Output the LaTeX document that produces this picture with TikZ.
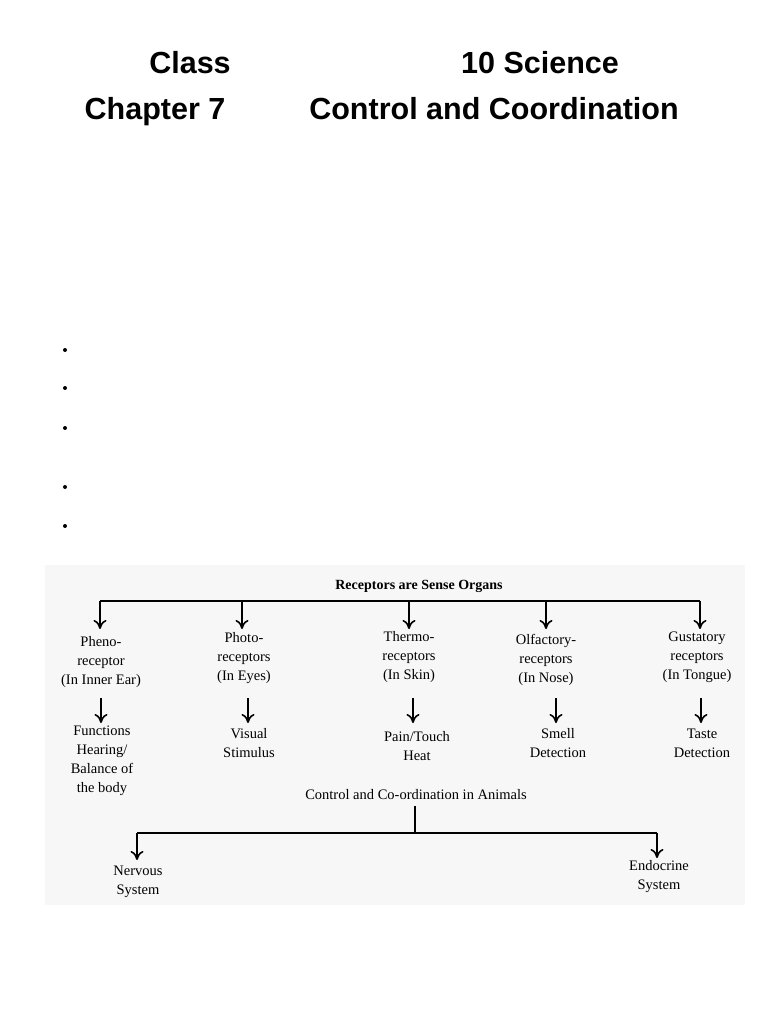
\documentclass[tikz,border=0pt]{standalone}
\usepackage{fontspec}
\setmainfont{Liberation Serif}
\newfontfamily\titlefont{Liberation Sans}
\usetikzlibrary{arrows.meta}
\begin{document}
\begin{tikzpicture}[x=1pt,y=-1pt,
  ttl/.style={font=\titlefont\bfseries\fontsize{30.5}{33}\selectfont,inner sep=0pt,anchor=base},
  lbl/.style={font=\fontsize{14.5}{19}\selectfont,align=center,inner sep=0pt},
  conn/.style={line width=1.7pt},
  arr/.style={line width=1.7pt,-{To[length=9pt,width=13pt,line width=1.6pt]}},
  dot/.style={circle,fill=black,inner sep=0pt,minimum size=4pt}]
\useasboundingbox (0,0) rectangle (768,1024);
\fill[white] (0,0) rectangle (768,1024);
\fill[black!3] (45,565) rectangle (745,905);
% titles
\node[ttl] (t1) at (190,74) {Class};
\node[ttl] (t2) at (540,74) {10 Science};
\node[ttl] (t3) at (155,120) {Chapter 7};
\node[ttl] (t4) at (494,120) {Control and Coordination};
% bullets
\foreach \y/\n in {350/b1,388/b2,428/b3,487/b4,526/b5} \node[dot] (\n) at (65,\y) {};
% top
\node[lbl,font=\bfseries\fontsize{14}{16}\selectfont] (root) at (419,586) {Receptors are Sense Organs};
\coordinate (hl) at (100,601); \coordinate (hr) at (700,601);
\draw[conn] (hl) -- (hr);
\foreach \x/\n in {100/a,242/b,409/c,546/d,700/e}{
  \coordinate (s\n) at (\x,601);
  \coordinate (e\n) at (\x,629);
  \draw[arr] (s\n) -- (e\n);
}
\node[lbl] (r1) at (101,662) {Pheno-\\receptor\\(In Inner Ear)};
\node[lbl] (r2) at (244,658) {Photo-\\receptors\\(In Eyes)};
\node[lbl] (r3) at (409,657) {Thermo-\\receptors\\(In Skin)};
\node[lbl] (r4) at (546,660) {Olfactory-\\receptors\\(In Nose)};
\node[lbl] (r5) at (697,657) {Gustatory\\receptors\\(In Tongue)};
\node[lbl] (f1) at (102,761) {Functions\\Hearing/\\Balance of\\the body};
\node[lbl] (f2) at (249,743) {Visual\\Stimulus};
\node[lbl] (f3) at (417,746) {Pain/Touch\\Heat};
\node[lbl] (f4) at (558,743) {Smell\\Detection};
\node[lbl] (f5) at (702,743) {Taste\\Detection};
\foreach \x/\n in {101/a,248/b,413/c,556/d,701/e}{
  \coordinate (u\n) at (\x,698);
  \coordinate (v\n) at (\x,723);
  \draw[arr] (u\n) -- (v\n);
}
% bottom
\node[lbl] (cc) at (416,795) {Control and Co-ordination in Animals};
\coordinate (ct) at (415,806);
\coordinate (cj) at (415,833);
\draw[conn] (ct) -- (cj);
\coordinate (nl) at (137,833); \coordinate (nr) at (657,833);
\draw[conn] (nl) -- (nr);
\coordinate (ne) at (137,860); \coordinate (ee) at (657,858);
\draw[arr] (nl) -- (ne);
\draw[arr] (nr) -- (ee);
\node[lbl] (ns) at (138,882) {Nervous\\System};
\node[lbl] (es) at (659,877) {Endocrine\\System};
\end{tikzpicture}
\end{document}
